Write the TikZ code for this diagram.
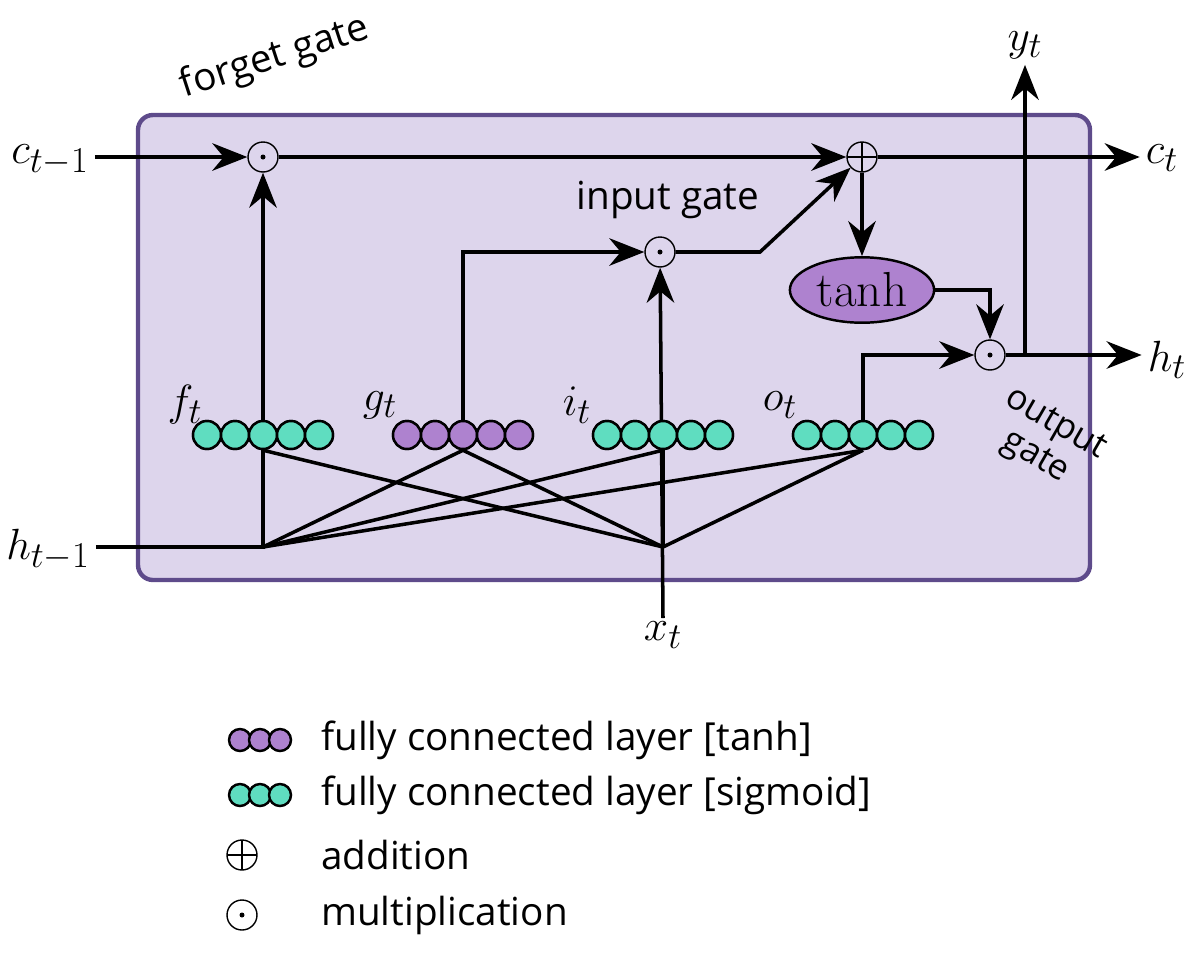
\documentclass[tikz,border=0pt]{standalone}
\usepackage{fontspec}
\setmainfont{Latin Modern Roman}
\newfontfamily\hand{Open Sans}
\usetikzlibrary{arrows.meta,shapes.geometric}
\definecolor{cellbg}{HTML}{DDD5EC}
\definecolor{cellborder}{HTML}{5E4B8B}
\definecolor{sigm}{HTML}{5FDDC0}
\definecolor{tanhc}{HTML}{AE82CF}
\tikzset{
  wire/.style={line width=2pt},
  arr/.style={wire,-{Stealth[length=0.7cm,width=0.55cm]}},
  neuron/.style={circle,draw,line width=1.4pt,minimum size=0.56cm,inner sep=0pt},
  mult/.style={circle,draw,line width=0.8pt,minimum size=0.6cm,inner sep=0pt,
    path picture={\fill (path picture bounding box.center) circle (0.05cm);}},
  add/.style={circle,draw,line width=0.8pt,minimum size=0.6cm,inner sep=0pt,
    path picture={\draw[line width=0.8pt] (path picture bounding box.north) -- (path picture bounding box.south)
      (path picture bounding box.west) -- (path picture bounding box.east);}},
  lbl/.style={font=\fontsize{28}{32}\selectfont},
  hw/.style={font=\hand\fontsize{22}{26}\selectfont},
}
\begin{document}
\begin{tikzpicture}[x=0.02cm,y=-0.02cm]
\useasboundingbox (0,0) rectangle (1200,964);
% cell
\draw[cellborder,fill=cellbg,line width=2.5pt,rounded corners=0.3cm] (138,115) rectangle (1090,580);
% operations
\node[mult] (fmul) at (263,157) {};
\node[add] (cadd) at (862,157) {};
\node[mult] (imul) at (660,252) {};
\node[mult] (omul) at (990,355) {};
\node[ellipse,draw,line width=1.4pt,fill=tanhc,minimum width=2.8cm,minimum height=1cm,lbl] (tanh) at (862,290) {tanh};
% layers
\foreach \name/\cx/\col in {f/263/sigm,g/463/tanhc,i/663/sigm,o/863/sigm}{
  \foreach \k in {1,...,5}
    \node[neuron,fill=\col] (\name\k) at ({\cx+(\k-3)*28},435) {};
}
\node[lbl] at (185,405) {$f_t$};
\node[lbl] at (380,405) {$g_t$};
\node[lbl] at (577,405) {$i_t$};
\node[lbl] at (780,405) {$o_t$};
% inputs and outputs
\node[lbl] (cin) at (50,160) {$c_{t-1}$};
\node[lbl] (hin) at (48,550) {$h_{t-1}$};
\node[lbl] (xin) at (663,635) {$x_t$};
\node[lbl] (cout) at (1162,158) {$c_t$};
\node[lbl] (hout) at (1167,360) {$h_t$};
\node[lbl] (yout) at (1025,45) {$y_t$};
\coordinate (hj) at (263,547);
\coordinate (xj) at (663,547);
\coordinate (xs) at (663,618);
\coordinate (ibend) at (760,252);
% connectors
\draw[arr] (cin.east |- fmul) -- (fmul);
\draw[arr] (fmul) -- (cadd);
\draw[arr] (cadd) -- (cout.west |- cadd);
\draw[arr] (f3) -- (fmul);
\draw[arr] (g3.center) |- (imul);
\draw[arr] (xs) -- (imul);
\draw[arr] (imul) -- (ibend) -- (cadd);
\draw[arr] (cadd) -- (tanh);
\draw[arr] (tanh.east) -| (omul);
\draw[arr] (o3.center) |- (omul);
\draw[arr] (omul) -- (hout.west |- omul);
\draw[arr] (omul -| yout) -- (yout.south);
\draw[wire] (hin.east |- hj) -- (hj) -- (f3);
\foreach \t in {f3,g3,i3,o3}{
  \draw[wire] (hj) -- (\t.south);
  \draw[wire] (xj) -- (\t.south);
}
% redraw neurons on top of wires
\foreach \name/\col in {f/sigm,g/tanhc,i/sigm,o/sigm}{
  \foreach \k in {1,...,5}
    \node[neuron,fill=\col] at (\name\k) {};
}
% gate labels
\node[hw,rotate=18] at (275,58) {forget gate};
\node[hw] at (668,200) {input gate};
\node[hw,rotate=-30,font=\hand\fontsize{20}{22}\selectfont] at (1055,425) {output};
\node[hw,rotate=-30,font=\hand\fontsize{20}{22}\selectfont] at (1035,458) {gate};
% legend
\foreach \k in {1,2,3}{
  \node[neuron,fill=tanhc,minimum size=0.44cm] (lt\k) at ({220+\k*20},740) {};
  \node[neuron,fill=sigm,minimum size=0.44cm] (ls\k) at ({220+\k*20},795) {};
}
\node[add] (ladd) at (242,855) {};
\node[mult] (lmul) at (242,915) {};
\node[hw,anchor=west] at (315,740) {fully connected layer [tanh]};
\node[hw,anchor=west] at (315,795) {fully connected layer [sigmoid]};
\node[hw,anchor=west] at (315,855) {addition};
\node[hw,anchor=west] at (315,915) {multiplication};
\end{tikzpicture}
\end{document}
